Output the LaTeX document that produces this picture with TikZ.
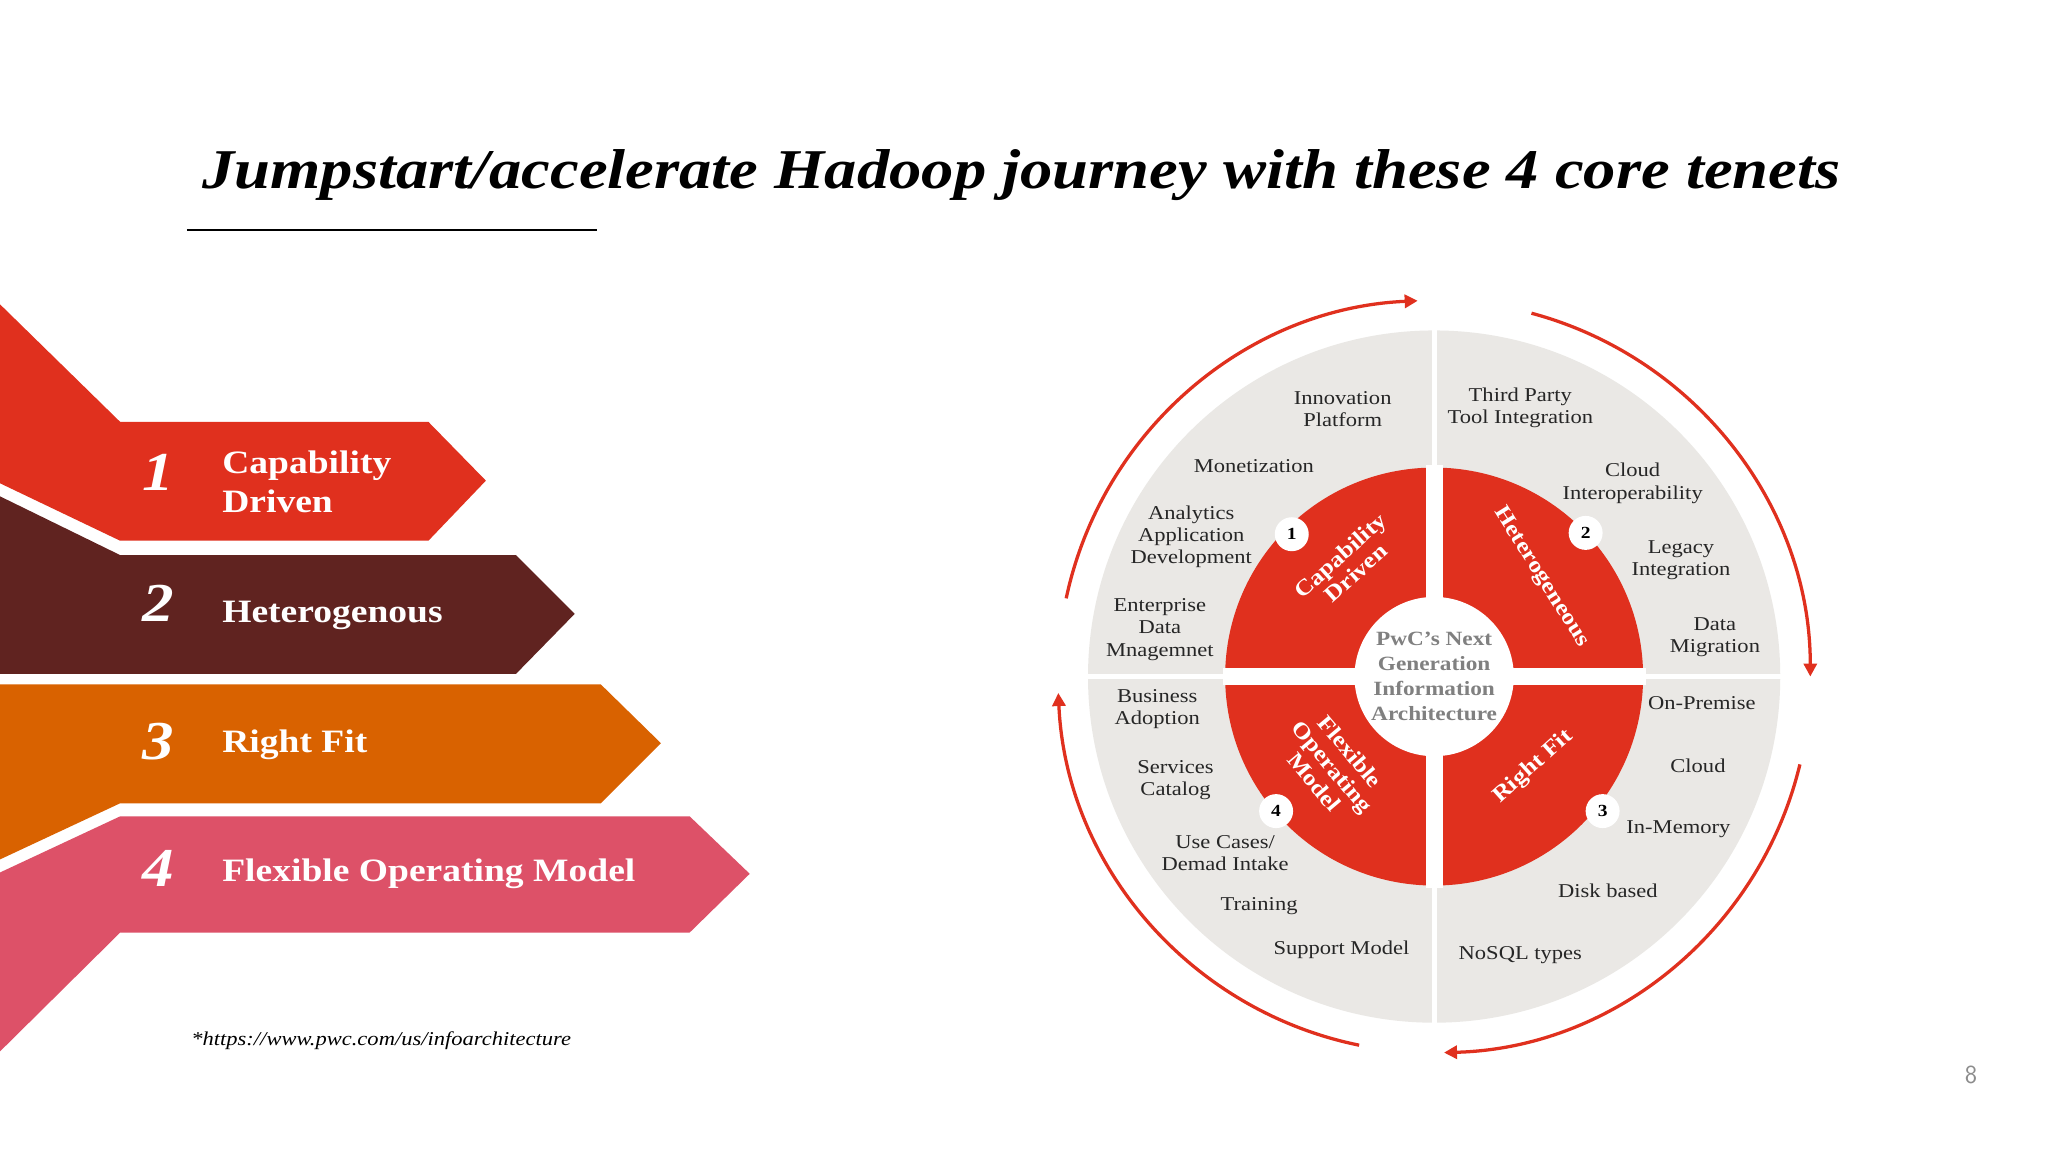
\documentclass[tikz,border=0pt]{standalone}
\usepackage{fontspec}
\setmainfont{Liberation Serif}[FakeStretch=1.15]
\usetikzlibrary{arrows.meta}
\definecolor{pwcred}{HTML}{E0301E}
\definecolor{pwcbrown}{HTML}{602320}
\definecolor{pwcorange}{HTML}{D96200}
\definecolor{pwcpink}{HTML}{DD5168}
\definecolor{diskgray}{HTML}{EAE8E5}
\tikzset{
 lbl/.style={font=\fontsize{15}{17}\selectfont, align=center, text=black!85, inner sep=0},
 chev/.style={font=\fontsize{25}{30}\selectfont\bfseries, text=white, anchor=west, align=left, inner sep=0},
 num/.style={font=\fontsize{42}{42}\selectfont\bfseries\itshape, text=white, inner sep=0},
 sect/.style={font=\fontsize{17}{18}\selectfont\bfseries, text=white, align=center, inner sep=0},
 badge/.style={circle, fill=white, minimum size=26pt, inner sep=0, font=\fontsize{13}{13}\selectfont\bfseries},
 cyc/.style={draw=pwcred, line width=2.5pt, -{Triangle[length=10pt,width=10pt]}}
}
\begin{document}
\begin{tikzpicture}[x=1pt,y=-1pt]
\useasboundingbox[fill=white] (0,0) rectangle (1568,882);
% title
\node[font=\fontsize{43}{46}\selectfont\bfseries\itshape] (title) at (782,134) {Jumpstart/accelerate Hadoop journey with these 4 core tenets};
\draw[line width=2pt] (143,176) -- (457,176);
% chevrons
\fill[pwcred] (0,233) -- (92,323) -- (328,323) -- (372,368) -- (328,414) -- (92,414) -- (0,370) -- cycle;
\fill[pwcbrown] (0,380) -- (92,425) -- (395,425) -- (440,470) -- (395,516) -- (0,516) -- cycle;
\fill[pwcorange] (0,524) -- (460,524) -- (506,569) -- (460,615) -- (92,615) -- (0,658) -- cycle;
\fill[pwcpink] (0,668) -- (92,625) -- (528,625) -- (574,669) -- (528,714) -- (92,714) -- (0,805) -- cycle;
\node[num] (n1) at (121,362) {1};
\node[num] (n2) at (121,462) {2};
\node[num] (n3) at (121,568) {3};
\node[num] (n4) at (121,665) {4};
\node[chev] (c1) at (170,369) {Capability\\Driven};
\node[chev] (c2) at (170,471) {Heterogenous};
\node[chev] (c3) at (170,570) {Right Fit};
\node[chev] (c4) at (170,669) {Flexible Operating Model};
\node[font=\fontsize{15}{16}\selectfont\itshape, anchor=west] (url) at (143,797) {*https://www.pwc.com/us/infoarchitecture};
\node[font=\fontsize{20}{20}\selectfont\sffamily, text=black!45] (pg) at (1509,823) {8};
% wheel
\begin{scope}[shift={(1098,518)}, y=1pt]
\fill[diskgray] (0,0) circle (265);
\draw[white, line width=4pt] (0,-266) -- (0,266) (-266,0) -- (266,0);
\fill[pwcred] (0,0) circle (160);
\draw[white, line width=13pt] (0,-162) -- (0,162) (-162,0) -- (162,0);
\fill[white] (0,0) circle (61);
\draw[cyc] (168:288) arc[start angle=168, end angle=92.5, radius=288];
\draw[cyc] (75:288) arc[start angle=75, end angle=0, radius=288];
\draw[cyc] (-13.5:288) arc[start angle=-13.5, end angle=-88.5, radius=288];
\draw[cyc] (-101.5:288) arc[start angle=-101.5, end angle=-177.5, radius=288];
\end{scope}
\node[font=\fontsize{15.5}{19}\selectfont\bfseries, text=black!50, align=center] (ctr) at (1098,518) {PwC’s Next\\Generation\\Information\\Architecture};
\node[sect, rotate=42] (s1) at (1032,432) {Capability\\Driven};
\node[sect, rotate=-58] (s2) at (1180,442) {Heterogeneous};
\node[sect, rotate=42] (s3) at (1174,587) {Right Fit};
\node[sect, rotate=-50] (s4) at (1020,587) {Flexible\\Operating\\Model};
\node[badge] (b1) at (989,409) {1};
\node[badge] (b2) at (1214,408) {2};
\node[badge] (b3) at (1227,621) {3};
\node[badge] (b4) at (977,621) {4};
% outer labels
\node[lbl] at (1028,313) {Innovation\\Platform};
\node[lbl] at (1164,312) {Third Party\\Tool Integration};
\node[lbl] at (960,357) {Monetization};
\node[lbl] at (1250,370) {Cloud\\Interoperability};
\node[lbl] at (912,411) {Analytics\\Application\\Development};
\node[lbl] at (1287,429) {Legacy\\Integration};
\node[lbl] at (888,482) {Enterprise\\Data\\Mnagemnet};
\node[lbl] at (1313,488) {Data\\Migration};
\node[lbl] at (886,543) {Business\\Adoption};
\node[lbl] at (1303,538) {On-Premise};
\node[lbl] at (900,597) {Services\\Catalog};
\node[lbl] at (1300,586) {Cloud};
\node[lbl] at (938,653) {Use Cases/\\Demad Intake};
\node[lbl] at (1285,635) {In-Memory};
\node[lbl] at (1231,682) {Disk based};
\node[lbl] at (964,694) {Training};
\node[lbl] at (1027,727) {Support Model};
\node[lbl] at (1164,731) {NoSQL types};
\end{tikzpicture}
\end{document}
